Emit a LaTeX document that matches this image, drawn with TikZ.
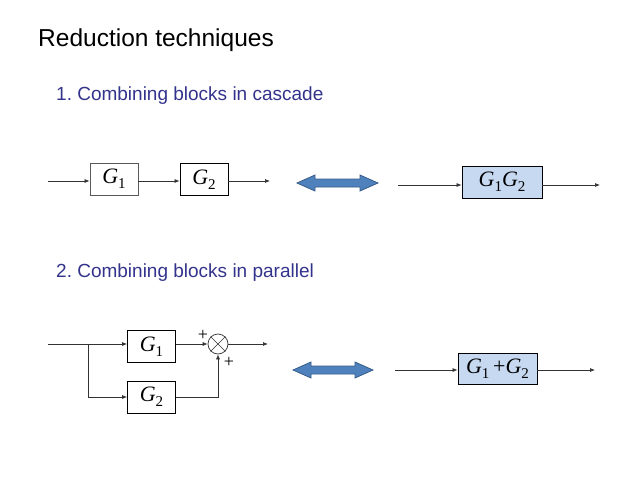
\documentclass[tikz,border=0pt]{standalone}
\usepackage{fontspec}
\setmainfont{Liberation Sans}
\newfontfamily\tnr{Liberation Serif}
\usetikzlibrary{arrows.meta}
\frenchspacing
\definecolor{subblue}{RGB}{51,51,140}
\definecolor{arrfill}{RGB}{79,129,189}
\definecolor{arrline}{RGB}{56,93,138}
\definecolor{boxfill}{RGB}{198,217,241}
\newcommand\gsb[1]{{\tnr\itshape G}\raisebox{-5pt}{\tnr\fontsize{15}{15}\selectfont #1}}
\tikzset{
  blk/.style={draw=black, line width=0.8pt, minimum width=48pt, minimum height=32pt, inner sep=0pt, font=\fontsize{22}{22}\selectfont},
  fblk/.style={blk, fill=boxfill, minimum width=80pt, minimum height=32pt},
  sig/.style={draw=black!80, line width=0.7pt, -{Latex[length=5pt,width=4pt]}},
  dbl/.style={fill=arrfill, draw=arrline, line width=0.8pt},
  pls/.style={font=\tnr\fontsize{18}{18}\selectfont, inner sep=0pt}
}
\begin{document}
\begin{tikzpicture}[x=1pt,y=-1pt]
\useasboundingbox (0,0) rectangle (638,479);
\node[anchor=west, font=\fontsize{24.5}{24.5}\selectfont, inner sep=0pt] (title) at (38,40) {Reduction techniques};
\node[anchor=west, font=\fontsize{19}{19}\selectfont, text=subblue, inner sep=0pt] (s1) at (56,96) {1. Combining blocks in cascade};
\node[anchor=west, font=\fontsize{19}{19}\selectfont, text=subblue, inner sep=0pt] (s2) at (56,273) {2. Combining blocks in parallel};

% cascade
\coordinate (in1) at (48,181);
\node[blk, draw=black!65] (g1) at (114,179) {\gsb{1}};
\node[blk] (g2) at (204,179.5) {\gsb{2}};
\coordinate (out1) at (270,181);
\draw[sig] (in1) -- (in1 -| g1.west);
\draw[sig] (g1.east |- in1) -- (g2.west |- in1);
\draw[sig] (g2.east |- in1) -- (out1);

\draw[dbl] (297,183) -- (315,175) -- (315,179) -- (360,179) -- (360,175) -- (378,183) -- (360,191) -- (360,187) -- (315,187) -- (315,191) -- cycle;

\coordinate (in2) at (398,185);
\node[fblk] (g12) at (502,182) {\gsb{1}\gsb{2}};
\coordinate (out2) at (600,185);
\draw[sig] (in2) -- (in2 -| g12.west);
\draw[sig] (g12.east |- in2) -- (out2);

% parallel
\coordinate (in3) at (48,344);
\coordinate (br) at (88,344);
\node[blk] (p1) at (151.5,346.5) {\gsb{1}};
\node[blk] (p2) at (151.5,397) {\gsb{2}};
\node[draw=black!80, circle, minimum size=20pt, inner sep=0pt, line width=0.7pt] (sum) at (218,344) {};
\draw[black!80, line width=0.7pt] (sum.north west) -- (sum.south east) (sum.north east) -- (sum.south west);
\coordinate (out3) at (268,344);
\draw[sig] (in3) -- (in3 -| p1.west);
\draw[sig] (br) |- (p2.west);
\draw[sig] (p1.east |- in3) -- (sum.west);
\draw[sig] (p2.east) -| (sum.south);
\draw[sig] (sum.east) -- (out3);
\node[pls] (pa) at (203,335) {+};
\node[pls] (pb) at (229,362) {+};

\draw[dbl] (293,370) -- (311,362) -- (311,366) -- (355,366) -- (355,362) -- (373,370) -- (355,378) -- (355,374) -- (311,374) -- (311,378) -- cycle;

\coordinate (in4) at (395,370);
\node[fblk, minimum width=79pt, minimum height=31pt] (g1p2) at (497.5,368.5) {\gsb{1}\,{\tnr+}\gsb{2}};
\coordinate (out4) at (595,370);
\draw[sig] (in4) -- (in4 -| g1p2.west);
\draw[sig] (g1p2.east |- in4) -- (out4);
\end{tikzpicture}
\end{document}
